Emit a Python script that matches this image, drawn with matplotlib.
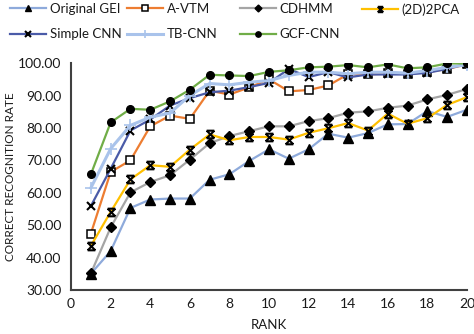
import matplotlib
matplotlib.use("Agg")
import matplotlib.pyplot as plt
from matplotlib.path import Path

plt.rcParams['font.family'] = ['Lato', 'DejaVu Sans']

rank = list(range(1, 21))

original_gei = [35.0, 42.0, 55.3, 57.9, 58.2, 58.2, 64.0, 65.7, 69.8, 73.4,
                70.5, 73.4, 78.2, 77.0, 78.4, 81.1, 81.2, 85.2, 83.4, 85.6]
a_vtm = [47.4, 66.4, 70.0, 80.5, 83.8, 82.8, 91.5, 90.3, 92.5, 95.0,
         91.3, 91.7, 93.1, 96.6, 96.5, 96.8, 96.7, 97.2, 98.2, 99.6]
cdhmm = [35.1, 49.3, 60.1, 63.3, 65.4, 70.2, 75.3, 77.5, 79.0, 80.5,
         80.5, 82.1, 83.0, 84.7, 85.1, 86.2, 86.9, 88.8, 90.2, 92.0]
pca_2d2 = [43.6, 54.1, 64.1, 68.5, 68.0, 73.3, 78.0, 76.2, 77.2, 77.2,
           76.4, 78.5, 79.9, 81.5, 79.2, 84.4, 81.3, 83.0, 87.1, 89.5]
simple_cnn = [55.9, 67.4, 79.2, 82.6, 86.9, 89.2, 91.0, 91.5, 92.6, 93.9,
              98.2, 95.7, 97.2, 95.6, 96.5, 96.5, 96.5, 97.0, 98.2, 99.8]
tb_cnn = [61.5, 73.6, 80.8, 83.3, 84.6, 90.0, 93.7, 93.3, 94.1, 94.6,
          96.2, 97.2, 97.2, 96.7, 97.2, 97.2, 96.9, 97.7, 98.7, 99.5]
gcf_cnn = [65.7, 81.7, 85.9, 85.6, 88.2, 91.8, 96.4, 96.2, 96.0, 97.3,
           97.8, 98.7, 98.9, 99.4, 98.7, 99.6, 98.4, 98.7, 99.9, 99.9]

# hourglass-style cross used for the (2D)2PCA series
bowtie = Path([(-1, -1), (1, 1), (-1, 1), (1, -1), (-1, 1), (1, 1), (-1, -1), (1, -1)],
              [Path.MOVETO, Path.LINETO, Path.MOVETO, Path.LINETO,
               Path.MOVETO, Path.LINETO, Path.MOVETO, Path.LINETO])

W, H = 474, 334
fig = plt.figure(figsize=(W / 100, H / 100), dpi=100)
ax = fig.add_axes([0.150, 0.132, 0.835, 0.679])

lw = 1.6
h_gei, = ax.plot(rank, original_gei, color='#8eaadb', lw=lw, marker='^', ms=6.5,
                 mfc='black', mec='black', label='Original GEI')
h_avtm, = ax.plot(rank, a_vtm, color='#ed7d31', lw=lw, marker='s', ms=6,
                  mfc='white', mec='black', mew=1.1, label='A-VTM')
h_cdhmm, = ax.plot(rank, cdhmm, color='#a5a5a5', lw=lw, marker='D', ms=5,
                   mfc='black', mec='black', label='CDHMM')
h_pca, = ax.plot(rank, pca_2d2, color='#ffc000', lw=lw, marker=bowtie, ms=5.5,
                 mec='black', mew=1.5, label='(2D)2PCA')
h_simple, = ax.plot(rank, simple_cnn, color='#4a5ba8', lw=lw, marker='x', ms=5.5,
                    mec='black', mew=1.5, label='Simple CNN')
h_tb, = ax.plot(rank, tb_cnn, color='#a9c3eb', lw=lw + 0.6, marker='+', ms=9,
                mec='#a9c3eb', mew=1.2, label='TB-CNN')
h_gcf, = ax.plot(rank, gcf_cnn, color='#70ad47', lw=lw, marker='o', ms=5.5,
                 mfc='black', mec='black', label='GCF-CNN')

ax.set_xlim(0, 20)
ax.set_ylim(30, 100)
ax.set_xticks(range(0, 21, 2))
ax.set_yticks(range(30, 101, 10))
ax.set_yticklabels([f'{v:.2f}' for v in range(30, 101, 10)])
ax.tick_params(length=0, labelsize=10, colors='#1a1a1a')
ax.tick_params(axis='y', pad=7)
ax.tick_params(axis='x', pad=6)
for side in ('top', 'right'):
    ax.spines[side].set_visible(False)
for side in ('left', 'bottom'):
    ax.spines[side].set_color('#404040')
    ax.spines[side].set_linewidth(1.5)

ax.set_xlabel('RANK', fontsize=9.5, color='#1a1a1a', labelpad=6)
ax.set_ylabel('CORRECT RECOGNITION RATE', fontsize=8.5, color='#1a1a1a')
ax.yaxis.set_label_coords(-0.138, 0.5)

# legend: four columns of at most two entries, laid out above the plot
columns = [([h_gei, h_simple], 10), ([h_avtm, h_tb], 127),
           ([h_cdhmm, h_gcf], 240), ([h_pca], 362)]
for handles, x_px in columns:
    fig.legend(handles=handles, labels=[h.get_label() for h in handles],
               loc='upper left', bbox_to_anchor=(x_px / W, 1 - 3 / H),
               frameon=False, fontsize=9.5, handlelength=2.7, handletextpad=0.3,
               labelspacing=1.0, borderpad=0, borderaxespad=0, markerscale=0.7,
               labelcolor='#1a1a1a')

fig.savefig('out.png', dpi=100)
